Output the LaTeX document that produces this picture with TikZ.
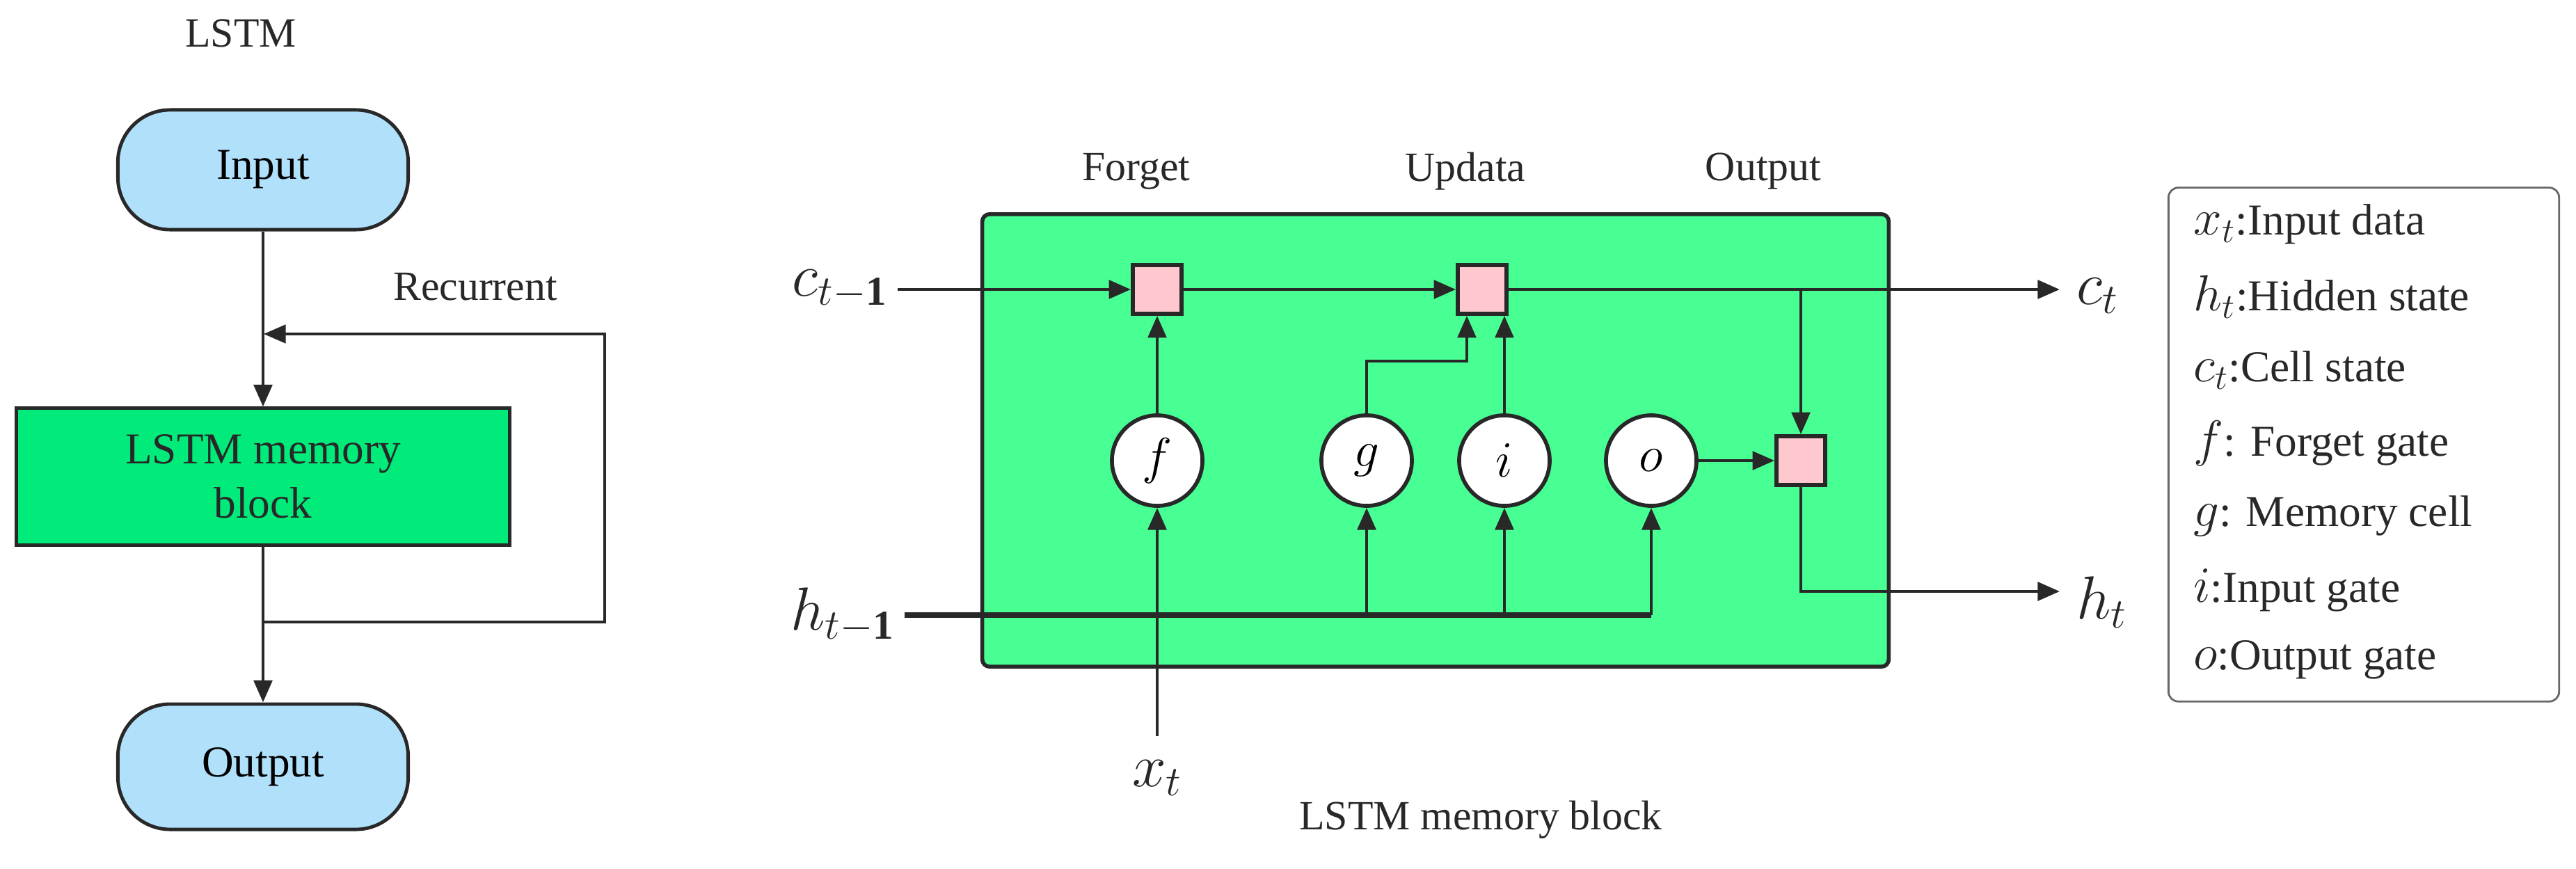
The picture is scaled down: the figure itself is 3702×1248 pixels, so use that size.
\documentclass[tikz,border=0pt]{standalone}
\usepackage{fontspec}
\setmainfont{Liberation Serif}
\usetikzlibrary{arrows.meta}
\definecolor{lblue}{RGB}{176,224,250}
\definecolor{bgreen}{RGB}{0,235,122}
\definecolor{mgreen}{RGB}{72,255,148}
\definecolor{pinkq}{RGB}{255,200,206}
\definecolor{ink}{RGB}{40,40,40}
\newcommand{\lm}[1]{{\fontsize{22}{24}\selectfont$#1$}}
\begin{document}
\begin{tikzpicture}[x=0.01cm,y=-0.01cm,
  line width=1.4pt, draw=ink,
  arr/.style={-{Triangle[length=9pt,width=7.5pt]}},
  term/.style={draw,fill=lblue,rounded corners=0.75cm,minimum width=4.17cm,minimum height=1.72cm,font=\fontsize{18}{20}\selectfont},
  sq/.style={draw,fill=pinkq,minimum size=0.7cm,inner sep=0pt,line width=1.6pt},
  gate/.style={draw,fill=white,circle,minimum size=1.3cm,inner sep=0pt,font=\fontsize{21}{24}\selectfont,line width=1.6pt},
  lab/.style={font=\fontsize{17}{20}\selectfont,text=ink},
  mlab/.style={font=\fontsize{24}{27}\selectfont,text=ink},
  leg/.style={font=\fontsize{18}{22}\selectfont,text=ink,anchor=west,inner sep=0pt}]
\useasboundingbox (0,0) rectangle (3702,1248);
% left flowchart
\node[lab] (title) at (346,48) {LSTM};
\node[term] (in) at (378,244) {Input};
\node[draw,fill=bgreen,minimum width=7.08cm,minimum height=1.96cm,align=center,font=\fontsize{18}{22}\selectfont,text=ink] (blk) at (378,685) {LSTM memory\\block};
\node[term,minimum height=1.8cm] (out) at (378,1102) {Output};
\node[lab] (rec) at (683,412) {Recurrent};
\coordinate (j1) at (379,480);
\coordinate (j2) at (379,894);
\coordinate (r1) at (869,480);
\coordinate (r2) at (869,894);
\draw[arr] (in) -- (blk);
\draw[arr] (blk) -- (out);
\draw[line width=1.1pt,arr] (j2) -- (r2) -- (r1) -- (j1);
% middle
\node[draw,fill=mgreen,rounded corners=3pt,minimum width=13.02cm,minimum height=6.5cm,line width=1.6pt] (box) at (2063,633) {};
\node[font=\fontsize{17}{20}\selectfont,text=ink] (lf) at (1633,246) {Forget};
\node[font=\fontsize{17}{20}\selectfont,text=ink] (lu) at (2106,246) {Updata};
\node[font=\fontsize{17}{20}\selectfont,text=ink] (lo) at (2534,246) {Output};
\node[sq] (s1) at (1663,416) {};
\node[sq] (s2) at (2130,416) {};
\node[sq] (s3) at (2588,662) {};
\node[gate] (f) at (1663,662) {$f$};
\node[gate] (g) at (1964,662) {$g$};
\node[gate] (i) at (2162,662) {$i$};
\node[gate] (o) at (2373,662) {$o$};
\node[mlab,anchor=east] (cm) at (1290,416) {$c_{t-\mathbf{1}}$};
\node[mlab,anchor=east] (hm) at (1300,884) {$h_{t-\mathbf{1}}$};
\node[mlab,anchor=west] (ct) at (2970,425) {$c_t$};
\node[mlab,anchor=west] (ht) at (2970,866) {$h_t$};
\node[mlab] (xt) at (1663,1118) {$x_t$};
\node[lab] (cap) at (2128,1178) {LSTM memory block};
\coordinate (xs) at (1663,1058);
\coordinate (hs) at (1300,884);
\coordinate (hg) at (1964,884);
\coordinate (hi) at (2162,884);
\coordinate (ho) at (2373,884);
\coordinate (gk) at (1964,519);
\coordinate (gk2) at (2108,519);
\coordinate (cs) at (2588,416);
\coordinate (ce) at (2960,416);
\coordinate (hk) at (2588,850);
\coordinate (he) at (2960,850);
\draw[arr] (cm) -- (s1);
\draw[arr] (s1) -- (s2);
\draw[arr] (s2) -- (ce);
\draw[arr] (f) -- (s1);
\draw[arr] (xs) -- (f);
\draw[line width=2.4pt] (hs) -- (ho);
\draw[arr] (hg) -- (g);
\draw[arr] (hi) -- (i);
\draw[arr] (ho) -- (o);
\draw[arr] (g) -- (gk) -- (gk2) -- (gk2 |- s2.south);
\draw[arr] (i) -- (i |- s2.south);
\draw[arr] (o) -- (s3);
\draw[arr] (cs) -- (s3);
\draw[arr] (s3) -- (hk) -- (he);
% legend
\node[draw=ink!70,line width=0.8pt,rounded corners=4pt,minimum width=5.61cm,minimum height=7.38cm] (legbox) at (3397,639) {};
\node[leg] (l1) at (3150,322) {\lm{x_t}:Input data};
\node[leg] (l2) at (3150,427) {\lm{h_t}:Hidden state};
\node[leg] (l3) at (3150,532) {\lm{c_t}:Cell state};
\node[leg] (l4) at (3150,637) {\lm{f}: Forget gate};
\node[leg] (l5) at (3150,742) {\lm{g}: Memory cell};
\node[leg] (l6) at (3150,848) {\lm{i}:Input gate};
\node[leg] (l7) at (3150,948) {\lm{o}:Output gate};
\end{tikzpicture}
\end{document}
